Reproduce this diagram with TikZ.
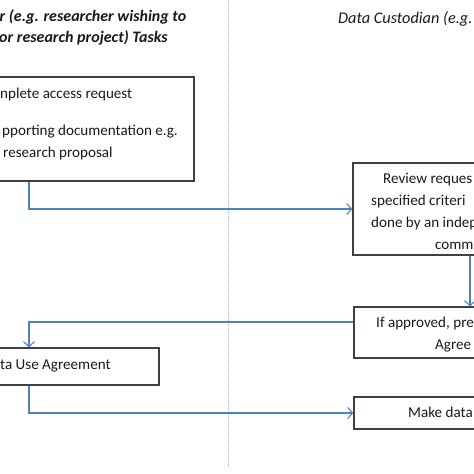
\documentclass[tikz,border=0pt]{standalone}
\usepackage{fontspec}
\setmainfont{Carlito}
\usetikzlibrary{arrows.meta}
\definecolor{flowblue}{HTML}{4F81BD}
\definecolor{boxgray}{HTML}{404040}
\definecolor{lanegray}{HTML}{A3B5CC}

\begin{document}
\begin{tikzpicture}[x=1pt, y=-1pt,
  box/.style={draw=boxgray, line width=1.2pt, rectangle, inner sep=0pt},
  txt/.style={anchor=base west, inner sep=0pt, font=\fontsize{15.1}{18}\selectfont, text=black!90},
  hdr/.style={anchor=base west, inner sep=0pt, font=\fontsize{16}{19}\selectfont\bfseries\itshape, text=black!90},
  flow/.style={draw=flowblue, line width=1.1pt, -{Straight Barb[length=5pt,width=11pt]}}]
\useasboundingbox (0,0) rectangle (474,474);
\clip (0,0) rectangle (474,474);
\draw[lanegray, densely dotted, line width=1pt] (228,0) -- (228,468);
\node[hdr] (H1L1) at (-0.5,21) {r (e.g. researcher wishing to};
\node[hdr] (H1L2) at (-1,42) {or research project) Tasks};
\node[hdr, font=\fontsize{16.3}{19}\selectfont\itshape] (H2L1) at (338,23) {Data Custodian (e.g.};
\node[box, minimum width=330pt, minimum height=104pt] (R1) at (29,129) {};
\node[box, minimum width=260pt, minimum height=37pt] (R2) at (29,366.5) {};
\node[box, minimum width=234pt, minimum height=92pt] (C1) at (470,209) {};
\node[box, minimum width=232pt, minimum height=51pt] (C2) at (470,332.5) {};
\node[box, minimum width=232pt, minimum height=32pt] (C3) at (470,413) {};
\node[txt] (R1T1) at (0,98) {nplete access request};
\node[txt] (R1T2) at (2,135) {pporting documentation e.g.};
\node[txt] (R1T3) at (3,157) {research proposal};
\node[txt] (R2T1) at (0,369) {ta Use Agreement};
\node[txt] (C1T1) at (383,183) {Review reques};
\node[txt] (C1T2) at (371,205) {specified criteri};
\node[txt] (C1T3) at (371,227) {done by an indep};
\node[txt] (C1T4) at (435,249) {comm};
\node[txt] (C2T1) at (376,327) {If approved, pre};
\node[txt] (C2T2) at (435,349) {Agree};
\node[txt] (C3T1) at (408,417) {Make data};
\draw[flow] (R1.south) |- (C1.west);
\draw[flow] (C1.south) -- (C2.north);
\draw[flow] ([yshift=10.5pt]C2.west) -| (R2.north);
\draw[flow] (R2.south) |- (C3.west);
\end{tikzpicture}
\end{document}
